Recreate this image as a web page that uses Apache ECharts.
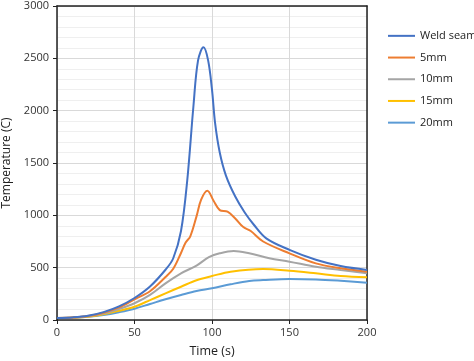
<!DOCTYPE html>
<html>
<head>
<meta charset="utf-8">
<script src="https://cdn.jsdelivr.net/npm/echarts@6/dist/echarts.min.js"></script>
<style>html,body{margin:0;padding:0;background:#fff}#c{width:474px;height:361px}</style>
</head>
<body>
<div id="c"></div>
<script>
var seriesNames = ['Weld seam', '5mm', '10mm', '15mm', '20mm'];
var seriesColors = ['#4472C4', '#ED7D31', '#A5A5A5', '#FFC000', '#5B9BD5'];
var xTicks = [0, 50, 100, 150, 200];
var yTicks = [0, 500, 1000, 1500, 2000, 2500, 3000];

var weldSeam = [[0,20],[10,25],[20,40],[30,75],[40,130],[50,210],[60,320],[70,480],[75,590],[80,850],[84,1330],[88,2040],[91,2480],[94.5,2605],[97.5,2480],[100,2200],[102,1880],[105,1600],[109,1380],[115,1180],[121,1030],[127,910],[135,780],[150,670],[167,575],[183,515],[200,478]];
var mm5 = [[0,20],[10,24],[20,38],[30,70],[40,120],[50,198],[60,275],[70,410],[75,490],[80,640],[83,740],[86,800],[90,990],[93,1150],[97,1235],[101,1140],[105,1050],[110,1035],[115,970],[120,890],[125,850],[133,750],[150,637],[167,541],[183,494],[200,462]];
var mm10 = [[0,20],[10,23],[20,35],[30,62],[40,105],[50,160],[60,240],[70,350],[80,446],[90,520],[98,600],[105,637],[114,659],[124,637],[137,590],[150,557],[167,509],[183,478],[200,446]];
var mm15 = [[0,20],[10,22],[20,32],[30,55],[40,88],[50,127],[60,190],[70,255],[80,318],[90,380],[100,420],[112,462],[133,487],[150,471],[167,446],[183,420],[200,408]];
var mm20 = [[0,20],[10,21],[20,30],[30,48],[40,75],[50,108],[60,153],[70,198],[80,239],[90,277],[100,303],[112,341],[124,373],[133,382],[150,392],[167,388],[183,375],[200,357]];

var allData = [weldSeam, mm5, mm10, mm15, mm20];
var font = 'Open Sans';
var axisColor = '#222';

var chart = echarts.init(document.getElementById('c'));
chart.setOption({
  animation: false,
  textStyle: { fontFamily: font },
  grid: { left: 57, right: 107, top: 6, bottom: 41, show: false, containLabel: false, outerBoundsMode: 'none' },
  legend: {
    orient: 'vertical', left: 388, top: 25, padding: 0,
    icon: 'rect', itemWidth: 27, itemHeight: 2, itemGap: 0,
    textStyle: { fontFamily: font, fontSize: 11, color: '#222', lineHeight: 21.7 },
    data: seriesNames
  },
  xAxis: [{
    type: 'value', min: xTicks[0], max: xTicks[xTicks.length - 1], interval: 50,
    name: 'Time (s)', nameLocation: 'middle', nameGap: 25,
    nameTextStyle: { fontFamily: font, fontSize: 12.5, color: '#222' },
    axisLine: { onZero: false, lineStyle: { color: axisColor, width: 1.5 } },
    axisTick: { show: true, length: 4, lineStyle: { color: axisColor } },
    axisLabel: { fontFamily: font, fontSize: 11, color: '#333', margin: 7, formatter: function (v) { return String(v); } },
    splitLine: { show: true, lineStyle: { color: '#D9D9D9', width: 1 } },
    z: 5
  }, {
    type: 'value', position: 'top', min: xTicks[0], max: xTicks[xTicks.length - 1], interval: 50,
    axisLine: { show: true, onZero: false, lineStyle: { color: axisColor, width: 1.5 } },
    axisTick: { show: false }, axisLabel: { show: false }, splitLine: { show: false }, z: 5
  }],
  yAxis: [{
    type: 'value', min: yTicks[0], max: yTicks[yTicks.length - 1], interval: 500,
    name: 'Temperature (C)', nameLocation: 'middle', nameGap: 44,
    nameTextStyle: { fontFamily: font, fontSize: 12, color: '#222' },
    axisLine: { show: true, onZero: false, lineStyle: { color: axisColor, width: 1.5 } },
    axisTick: { show: true, length: 4, lineStyle: { color: axisColor } },
    axisLabel: { fontFamily: font, fontSize: 11, color: '#333', margin: 8, formatter: function (v) { return String(v); } },
    splitLine: { show: true, lineStyle: { color: '#D9D9D9', width: 1 } },
    minorTick: { show: false, splitNumber: 5 },
    minorSplitLine: { show: true, lineStyle: { color: '#EFEFEF', width: 1 } },
    z: 5
  }, {
    type: 'value', position: 'right', min: yTicks[0], max: yTicks[yTicks.length - 1], interval: 500,
    axisLine: { show: true, onZero: false, lineStyle: { color: axisColor, width: 1.5 } },
    axisTick: { show: false }, axisLabel: { show: false }, splitLine: { show: false }, z: 5
  }],
  series: allData.map(function (d, i) {
    return {
      name: seriesNames[i], type: 'line', data: d, smooth: 0.35,
      symbol: 'none', z: 10 - i, xAxisIndex: 0, yAxisIndex: 0,
      lineStyle: { color: seriesColors[i], width: 2 },
      itemStyle: { color: seriesColors[i] }
    };
  })
});
</script>
</body>
</html>
